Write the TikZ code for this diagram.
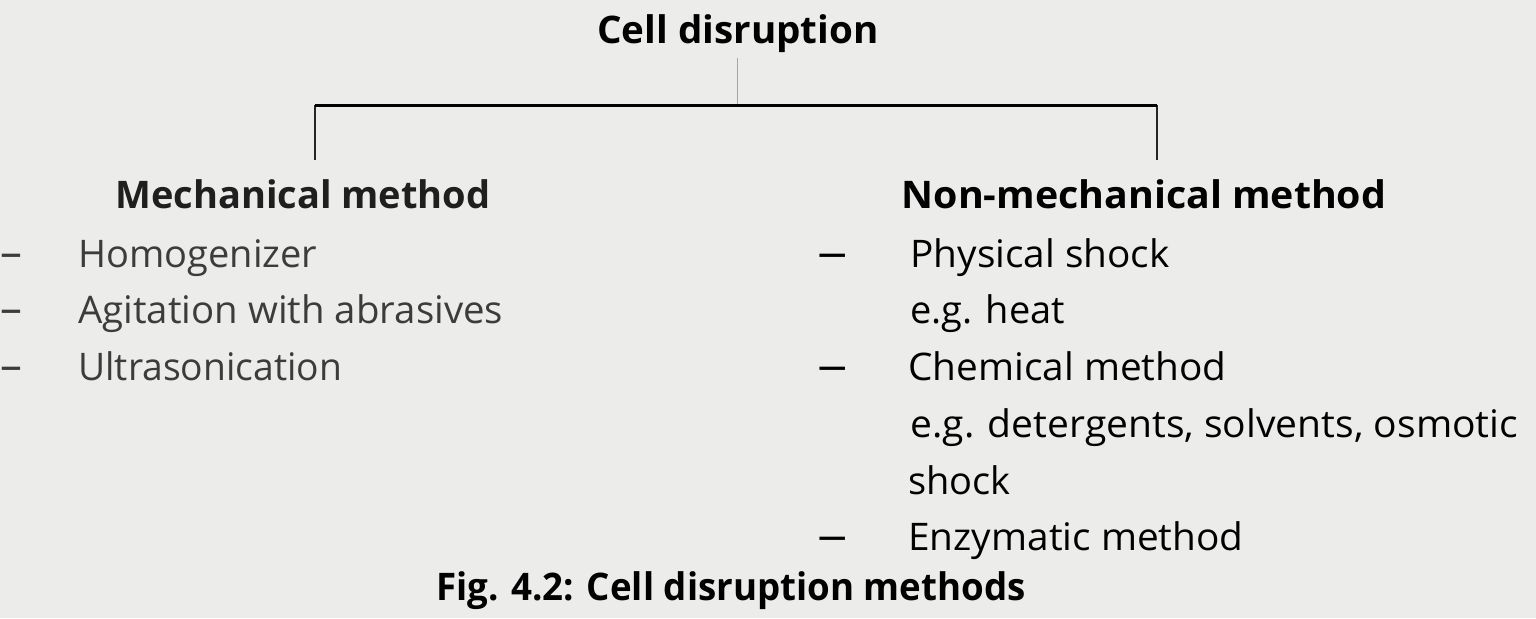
\documentclass[tikz,border=0pt]{standalone}
\usepackage{fontspec}
\setmainfont{Open Sans}
\definecolor{paper}{RGB}{236,236,234}
\definecolor{inkgray}{RGB}{60,60,60}
\newcommand{\sx}[2]{\scalebox{#1}[1]{#2}}
\newcommand{\longdash}{\scalebox{1.6}[1.15]{–}}
\newcommand{\edgedash}{\scalebox{1.15}[1.15]{–}}
\begin{document}
\begin{tikzpicture}[x=0.5pt,y=-0.5pt,
  head/.style={anchor=base, inner sep=0pt, font=\bfseries\fontsize{19}{23}\selectfont},
  item/.style={anchor=base west, inner sep=0pt, font=\fontsize{19}{23}\selectfont},
  dashmark/.style={anchor=base west, inner sep=0pt, font=\fontsize{19}{23}\selectfont},
  link/.style={line width=1.5pt, black},
  drop/.style={line width=1.1pt, black!85},
  faint/.style={line width=0.5pt, gray!70}]
\fill[paper] (0,0) rectangle (1536,618);
\useasboundingbox (0,0) rectangle (1536,618);
% headings
\node[head] (title) at (738,43) {\sx{1.015}{Cell disruption}};
\node[head, text=black!88] (mech) at (303,208) {Mechanical method};
\node[head] (nonmech) at (1144,208) {\sx{1.035}{Non-mechanical method}};
% connectors
\coordinate (tstem) at (737,58);
\coordinate (hub) at (737,105);
\coordinate (lt) at (315,105);
\coordinate (rt) at (1157,105);
\coordinate (le) at (315,160);
\coordinate (re) at (1157,160);
\draw[faint] (tstem) -- (hub);
\draw[drop] (le) -- (lt);
\draw[drop] (rt) -- (re);
\draw[link] (lt) -- (rt);
% left list
\node[dashmark, text=inkgray] (ld1) at (0,267) {\edgedash};
\node[dashmark, text=inkgray] (ld2) at (0,323) {\edgedash};
\node[dashmark, text=inkgray] (ld3) at (0,380) {\edgedash};
\node[item, text=inkgray] (l1) at (78,267) {Homogenizer};
\node[item, text=inkgray] (l2) at (78,323) {\sx{1.01}{Agitation with abrasives}};
\node[item, text=inkgray] (l3) at (78,380) {\sx{0.98}{Ultrasonication}};
% right list
\node[dashmark] (rd1) at (817,267) {\longdash};
\node[dashmark] (rd2) at (817,380) {\longdash};
\node[dashmark] (rd3) at (817,550) {\longdash};
\node[item] (r1) at (910,267) {\sx{1.02}{Physical shock}};
\node[item] (r2) at (910,323) {e.g. heat};
\node[item] (r3) at (908,380) {\sx{1.02}{Chemical method}};
\node[item] (r4) at (910,437) {\sx{1.027}{e.g. detergents, solvents, osmotic}};
\node[item] (r5) at (908,494) {shock};
\node[item] (r6) at (908,550) {\sx{1.02}{Enzymatic method}};
% caption
\node[head] (cap) at (731,600) {\sx{0.965}{Fig. 4.2: Cell disruption methods}};
\end{tikzpicture}
\end{document}
